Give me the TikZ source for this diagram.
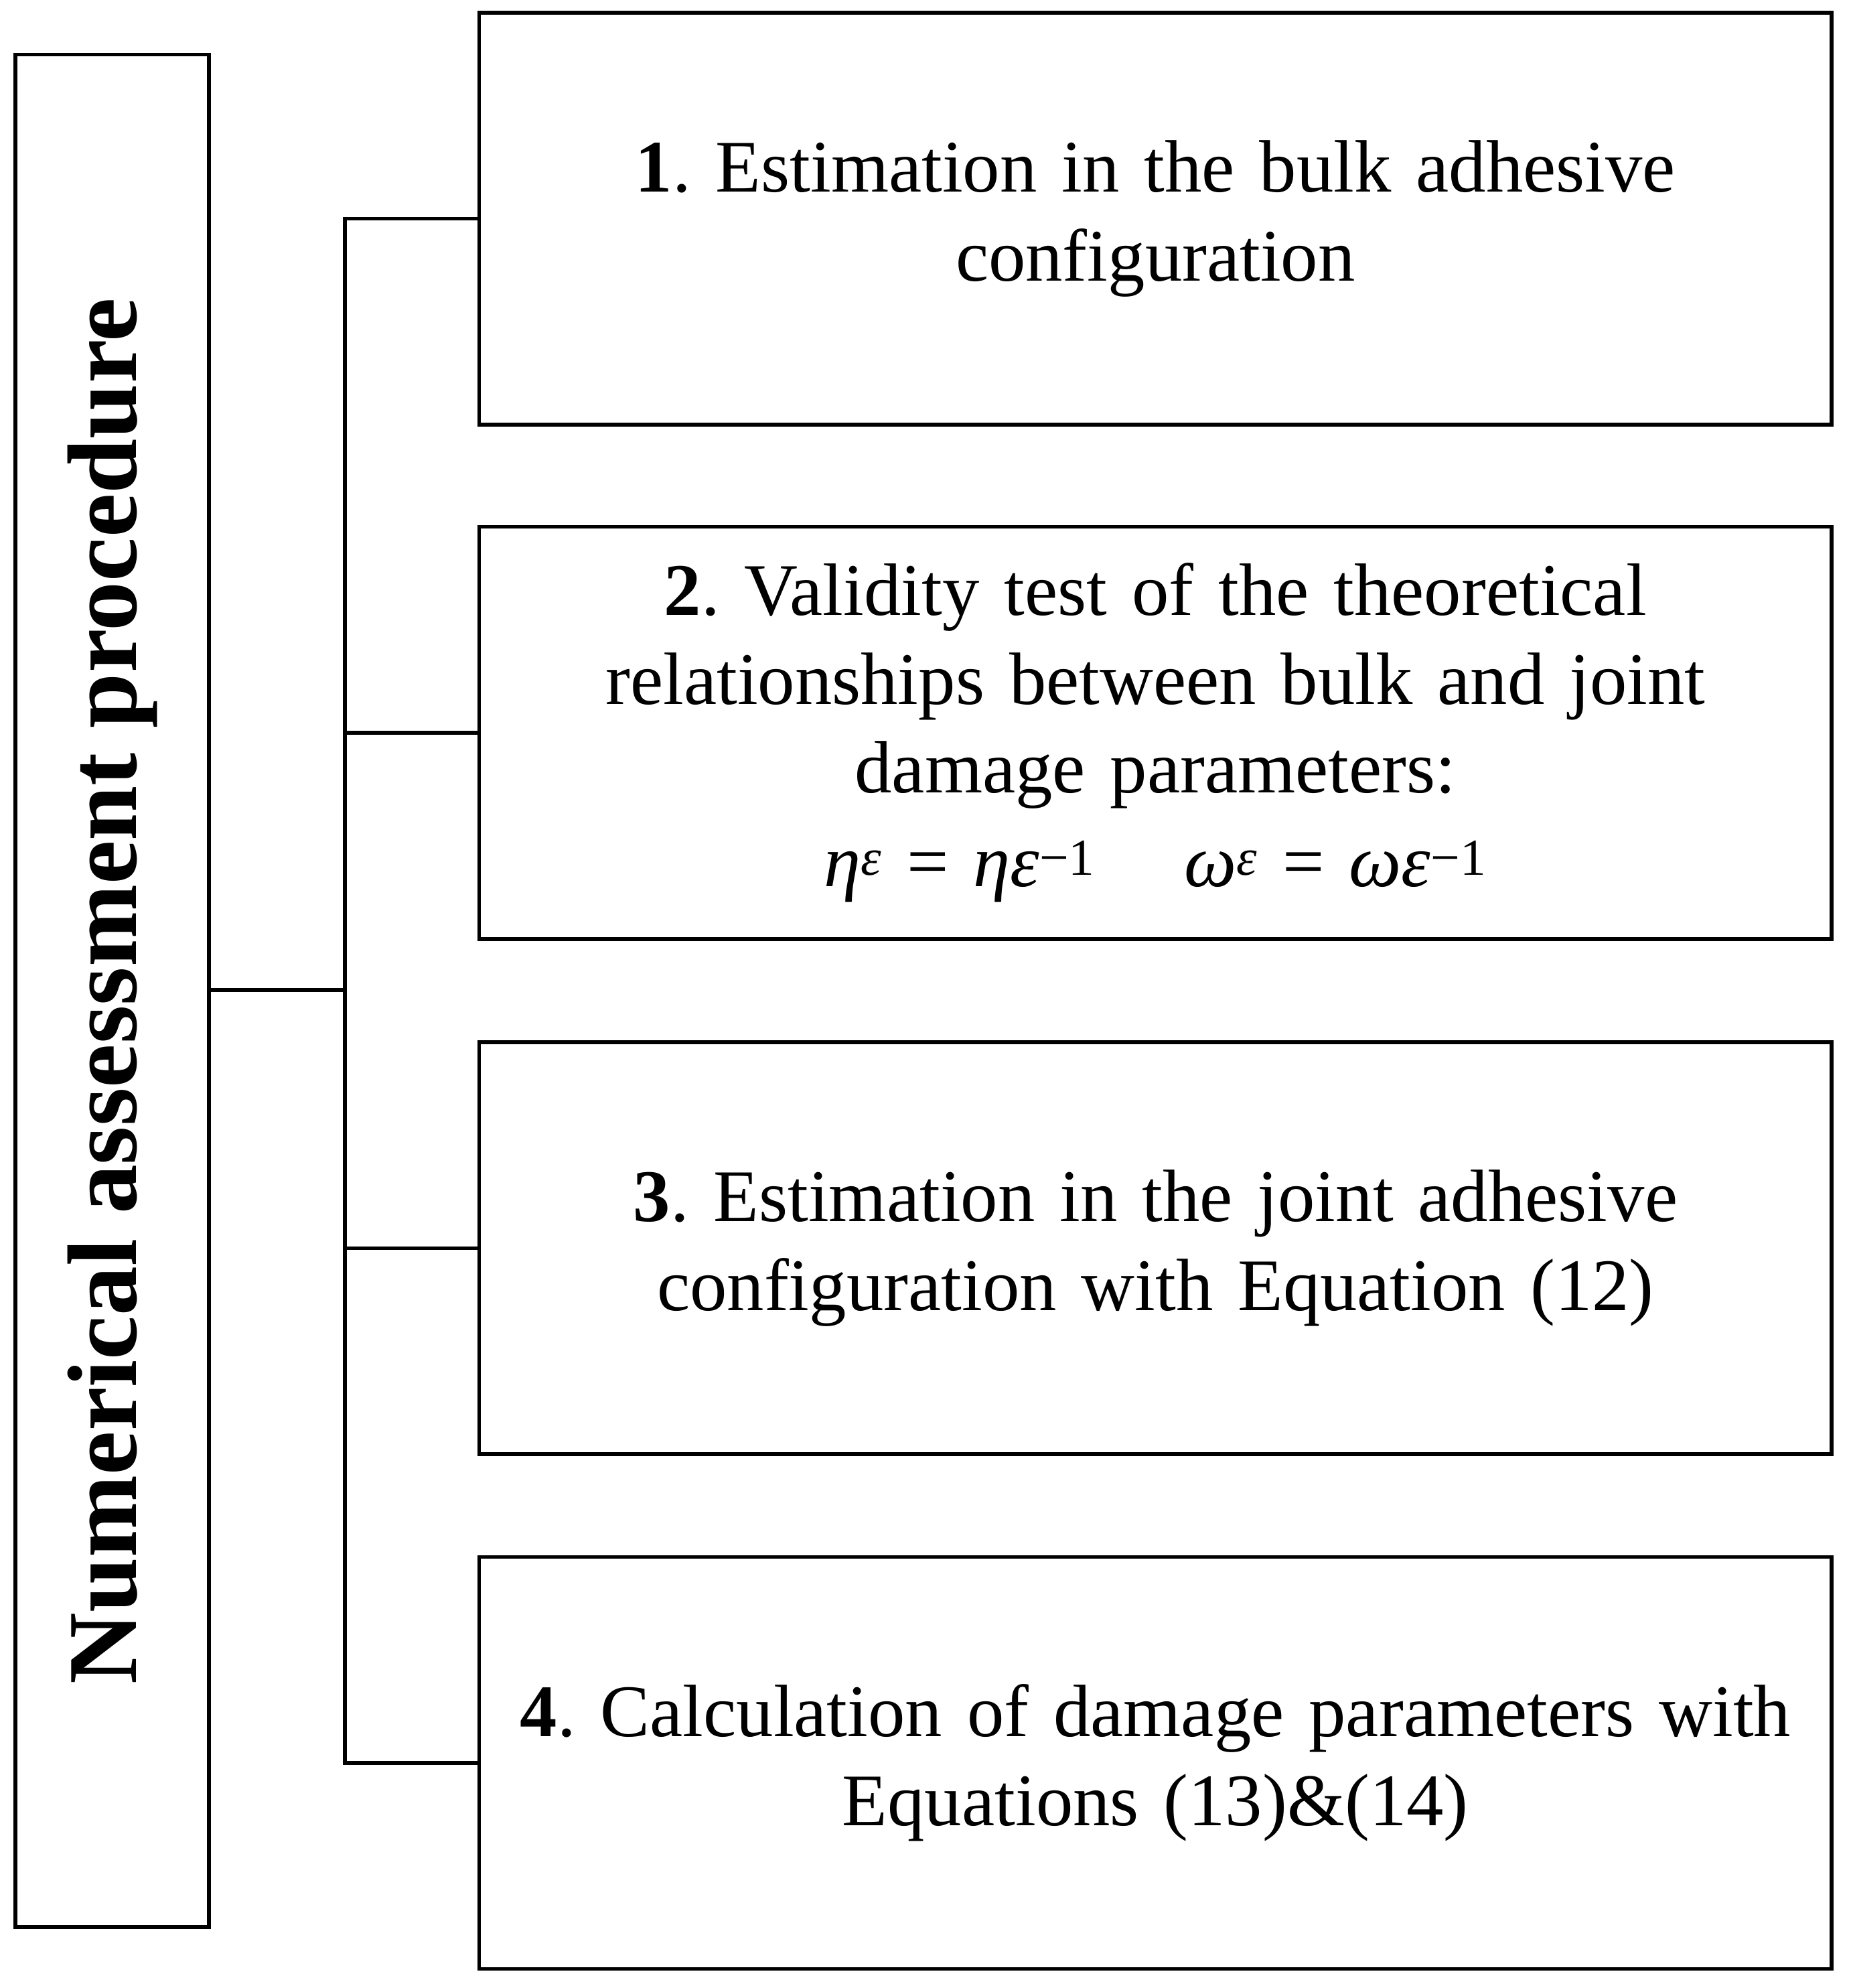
\documentclass[tikz,border=0pt]{standalone}
\usepackage{fontspec}
\setmainfont{Liberation Serif}
\frenchspacing
\begin{document}
\begin{tikzpicture}[x=1pt,y=-1pt,line width=3pt,
  stepbox/.style={draw,rectangle,minimum width=1067pt,minimum height=325pt,inner sep=0pt,text width=1062pt,align=center,font=\fontsize{58.5}{70}\selectfont},
  side/.style={draw,rectangle,minimum width=1477pt,minimum height=153pt,inner sep=0pt,rotate=90,font=\fontsize{78}{88}\selectfont\bfseries}]
\useasboundingbox (0,0) rectangle (1460,1568);
\node[side] (L) at (88.5,781.5) {Numerical assessment procedure};
\node[stepbox] (b1) at (911.5,172.5) {\textbf{1}. Estimation in the bulk adhesive\\configuration};
\node[stepbox] (b2) at (911.5,578) {\textbf{2}. Validity test of the theoretical\\relationships between bulk and joint\\damage parameters:\\[4pt]\textit{η}\textsuperscript{\textit{ε}} = \textit{ηε}\textsuperscript{−1}\hspace{1.2em}\textit{ω}\textsuperscript{\textit{ε}} = \textit{ωε}\textsuperscript{−1}};
\node[stepbox] (b3) at (911.5,984.5) {\textbf{3}. Estimation in the joint adhesive\\configuration with Equation (12)};
\node[stepbox] (b4) at (911.5,1390.5) {\textbf{4}. Calculation of damage parameters with\\Equations (13)\&(14)};
\coordinate (j) at (272,781);
\draw (L.south |- j) -- (j);
\draw (b1.west) -| (272,172.5) -- (272,1390.5) -- (b4.west);
\draw (b2.west) -- (272,578);
\draw (b3.west) -- (272,984.5);
\end{tikzpicture}
\end{document}
